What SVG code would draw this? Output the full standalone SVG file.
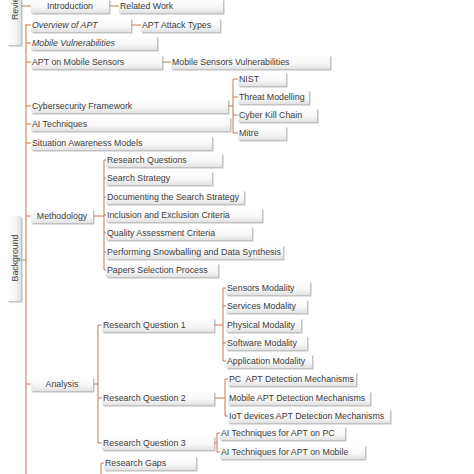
<svg xmlns="http://www.w3.org/2000/svg" width="474" height="474" viewBox="0 0 474 474">
<defs>
<linearGradient id="g" x1="0" y1="0" x2="0" y2="1">
<stop offset="0" stop-color="#ffffff"/>
<stop offset="0.6" stop-color="#f7f7f7"/>
<stop offset="1" stop-color="#e2e2e2"/>
</linearGradient>
<linearGradient id="gv" x1="0" y1="0" x2="1" y2="0">
<stop offset="0" stop-color="#ffffff"/>
<stop offset="0.6" stop-color="#f5f5f5"/>
<stop offset="1" stop-color="#e0e0e0"/>
</linearGradient>
</defs>
<style>
.s{fill:#a8a8a8;opacity:.7}
.b{fill:url(#g)}
.bv{fill:url(#gv)}
.t{font-family:"Liberation Sans",Arial,sans-serif;font-size:8.8px;fill:#3c3c3c}
.i{font-style:italic}
.m{text-anchor:middle}
.c{fill:none;stroke:#c8764c;stroke-width:1}
</style>
<rect width="474" height="474" fill="#ffffff"/>
<g id="connectors">
<path class="c" d="M21,6H31M109,6H119"/>
<path class="c" d="M26,24V474M26,25H31M131,25H141M26,43H31M26,62H31M162,62H171"/>
<path class="c" d="M26,106H31M26,124H31M26,143H31M228,106H233M238,79H233V133H238M233,97H238M233,115H238"/>
<path class="c" d="M26,216H31M93,216H104M107,160H104V270H107M104,178H107M104,197H107M104,215H107M104,233H107M104,252H107"/>
<path class="c" d="M21,260H26M26,384H31M93,384H98M102,325H98V443H102M98,398H102"/>
<path class="c" d="M214,325H223M226,288H223V361H226M223,306H226M223,343H226"/>
<path class="c" d="M214,398H225M228,379H225V416H228"/>
<path class="c" d="M214,443H217M220,433H217V452H220"/>
<path class="c" d="M104,463H101V474"/>
</g>
<g id="review"><rect class="s" x="8.5" y="-10" width="14" height="56.5"/><rect class="bv" x="7" y="-11" width="14" height="56"/><text class="t" transform="translate(17.5,20) rotate(-90)">Review</text></g>
<g id="background"><rect class="s" x="8.5" y="217.5" width="14" height="85"/><rect class="bv" x="7" y="216" width="14" height="85"/><text class="t m" transform="translate(17.5,258) rotate(-90)">Background</text></g>
<g id="introduction"><rect class="s" x="32.5" y="0.5" width="78" height="14"/><rect class="b" x="31" y="-1" width="78" height="14"/><text class="t m" x="70" y="9">Introduction</text></g>
<g id="related"><rect class="s" x="120.5" y="0.5" width="104" height="14"/><rect class="b" x="119" y="-1" width="104" height="14"/><text class="t" x="120" y="9">Related Work</text></g>
<g id="overview"><rect class="s" x="32.5" y="19.5" width="100" height="14"/><rect class="b" x="31" y="18" width="100" height="14"/><text class="t i" x="32" y="28">Overview of APT</text></g>
<g id="attacktypes"><rect class="s" x="142.5" y="19.5" width="79" height="14"/><rect class="b" x="141" y="18" width="79" height="14"/><text class="t" x="142" y="28">APT Attack Types</text></g>
<g id="mobvul"><rect class="s" x="32.5" y="37.5" width="126" height="14"/><rect class="b" x="31" y="36" width="126" height="14"/><text class="t i" x="32" y="46">Mobile Vulnerabilities</text></g>
<g id="aptmob"><rect class="s" x="32.5" y="56.5" width="131" height="14"/><rect class="b" x="31" y="55" width="131" height="14"/><text class="t" x="32" y="65">APT on Mobile Sensors</text></g>
<g id="msv"><rect class="s" x="172.5" y="56.5" width="159" height="14"/><rect class="b" x="171" y="55" width="159" height="14"/><text class="t" x="172" y="65">Mobile Sensors Vulnerabilities</text></g>
<g id="csf"><rect class="s" x="32.5" y="100.5" width="197" height="14"/><rect class="b" x="31" y="99" width="197" height="14"/><text class="t" x="32" y="109">Cybersecurity Framework</text></g>
<g id="ait"><rect class="s" x="32.5" y="118.5" width="199" height="14"/><rect class="b" x="31" y="117" width="199" height="14"/><text class="t" x="32" y="127">AI Techniques</text></g>
<g id="sam"><rect class="s" x="32.5" y="137.5" width="181" height="14"/><rect class="b" x="31" y="136" width="181" height="14"/><text class="t" x="32" y="146">Situation Awareness Models</text></g>
<g id="nist"><rect class="s" x="239.5" y="73.5" width="48" height="14"/><rect class="b" x="238" y="72" width="48" height="14"/><text class="t" x="239" y="82">NIST</text></g>
<g id="threat"><rect class="s" x="239.5" y="91.5" width="71" height="14"/><rect class="b" x="238" y="90" width="71" height="14"/><text class="t" x="239" y="100">Threat Modelling</text></g>
<g id="ckc"><rect class="s" x="239.5" y="109.5" width="79" height="14"/><rect class="b" x="238" y="108" width="79" height="14"/><text class="t" x="239" y="118">Cyber Kill Chain</text></g>
<g id="mitre"><rect class="s" x="239.5" y="127.5" width="48" height="14"/><rect class="b" x="238" y="126" width="48" height="14"/><text class="t" x="239" y="136">Mitre</text></g>
<g id="methodology"><rect class="s" x="32.5" y="210.5" width="62" height="14"/><rect class="b" x="31" y="209" width="62" height="14"/><text class="t m" x="62" y="219">Methodology</text></g>
<g id="rq"><rect class="s" x="107.5" y="154.5" width="116" height="14"/><rect class="b" x="106" y="153" width="116" height="14"/><text class="t" x="107" y="163">Research Questions</text></g>
<g id="ss"><rect class="s" x="107.5" y="172.5" width="106" height="14"/><rect class="b" x="106" y="171" width="106" height="14"/><text class="t" x="107" y="181">Search Strategy</text></g>
<g id="doc"><rect class="s" x="107.5" y="191.5" width="138" height="14"/><rect class="b" x="106" y="190" width="138" height="14"/><text class="t" x="107" y="200">Documenting the Search Strategy</text></g>
<g id="incl"><rect class="s" x="107.5" y="209.5" width="156" height="14"/><rect class="b" x="106" y="208" width="156" height="14"/><text class="t" x="107" y="218">Inclusion and Exclusion Criteria</text></g>
<g id="qa"><rect class="s" x="107.5" y="227.5" width="146" height="14"/><rect class="b" x="106" y="226" width="146" height="14"/><text class="t" x="107" y="236">Quality Assessment Criteria</text></g>
<g id="perf"><rect class="s" x="107.5" y="246.5" width="177" height="14"/><rect class="b" x="106" y="245" width="177" height="14"/><text class="t" x="107" y="255" textLength="174" lengthAdjust="spacingAndGlyphs">Performing Snowballing and Data Synthesis</text></g>
<g id="papers"><rect class="s" x="107.5" y="264.5" width="112" height="14"/><rect class="b" x="106" y="263" width="112" height="14"/><text class="t" x="107" y="273">Papers Selection Process</text></g>
<g id="analysis"><rect class="s" x="32.5" y="378.5" width="62" height="14"/><rect class="b" x="31" y="377" width="62" height="14"/><text class="t m" x="62" y="387">Analysis</text></g>
<g id="rq1"><rect class="s" x="103.5" y="319.5" width="112" height="14"/><rect class="b" x="102" y="318" width="112" height="14"/><text class="t" x="103" y="328">Research Question 1</text></g>
<g id="rq2"><rect class="s" x="103.5" y="392.5" width="112" height="14"/><rect class="b" x="102" y="391" width="112" height="14"/><text class="t" x="103" y="401">Research Question 2</text></g>
<g id="rq3"><rect class="s" x="103.5" y="437.5" width="112" height="14"/><rect class="b" x="102" y="436" width="112" height="14"/><text class="t" x="103" y="446">Research Question 3</text></g>
<g id="sensors"><rect class="s" x="227.5" y="282.5" width="84" height="14"/><rect class="b" x="226" y="281" width="84" height="14"/><text class="t" x="227" y="291">Sensors Modality</text></g>
<g id="services"><rect class="s" x="227.5" y="300.5" width="81" height="14"/><rect class="b" x="226" y="299" width="81" height="14"/><text class="t" x="227" y="309">Services Modality</text></g>
<g id="physical"><rect class="s" x="227.5" y="319.5" width="75" height="14"/><rect class="b" x="226" y="318" width="75" height="14"/><text class="t" x="227" y="328">Physical Modality</text></g>
<g id="software"><rect class="s" x="227.5" y="337.5" width="81" height="14"/><rect class="b" x="226" y="336" width="81" height="14"/><text class="t" x="227" y="346">Software Modality</text></g>
<g id="application"><rect class="s" x="227.5" y="355.5" width="86" height="14"/><rect class="b" x="226" y="354" width="86" height="14"/><text class="t" x="227" y="364">Application Modality</text></g>
<g id="pcdet"><rect class="s" x="229.5" y="373.5" width="128" height="14"/><rect class="b" x="228" y="372" width="128" height="14"/><text class="t" x="229" y="382" xml:space="preserve">PC  APT Detection Mechanisms</text></g>
<g id="mobdet"><rect class="s" x="229.5" y="392.5" width="142" height="14"/><rect class="b" x="228" y="391" width="142" height="14"/><text class="t" x="229" y="401">Mobile APT Detection Mechanisms</text></g>
<g id="iotdet"><rect class="s" x="229.5" y="410.5" width="162" height="14"/><rect class="b" x="228" y="409" width="162" height="14"/><text class="t" x="229" y="419">IoT devices APT Detection Mechanisms</text></g>
<g id="aipc"><rect class="s" x="221.5" y="427.5" width="125" height="14"/><rect class="b" x="220" y="426" width="125" height="14"/><text class="t" x="221" y="436">AI Techniques for APT on PC</text></g>
<g id="aimob"><rect class="s" x="221.5" y="446.5" width="145" height="14"/><rect class="b" x="220" y="445" width="145" height="14"/><text class="t" x="221" y="455">AI Techniques for APT on Mobile</text></g>
<g id="gaps"><rect class="s" x="105.5" y="457.5" width="92" height="14"/><rect class="b" x="104" y="456" width="92" height="14"/><text class="t" x="105" y="466">Research Gaps</text></g>
</svg>
